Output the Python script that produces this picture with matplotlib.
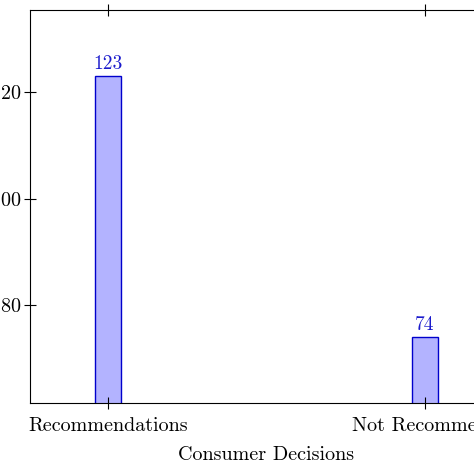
import matplotlib
matplotlib.use("Agg")
import matplotlib.pyplot as plt

categories = ["Recommendations", "Not Recommend"]
values = [123, 74]

plt.rcParams['font.family'] = 'serif'
plt.rcParams['font.serif'] = ['cmr10', 'DejaVu Serif']
plt.rcParams['axes.formatter.use_mathtext'] = True
plt.rcParams['mathtext.fontset'] = 'cm'

fig = plt.figure(figsize=(4.74, 4.74), dpi=100)
ax = fig.add_axes([30/474, 71/474, 473/474, 393/474])
x = list(range(len(categories)))
ax.bar(x, values, width=0.08, color='#b3b3ff', edgecolor='#0000cc', linewidth=1)
for xi, v in zip(x, values):
    ax.text(xi, v + 0.6, str(v), ha='center', va='bottom', color='#1a1acc', fontsize=14)
ax.set_xlim(-0.246, 1.246)
ax.set_ylim(61.6, 135.4)
ax.set_xticks(x)
ax.set_xticklabels(categories, fontsize=14.5)
ax.set_yticks([80, 100, 120])
ax.tick_params(axis='y', labelsize=14.5, direction='inout', length=8, pad=2)
ax.tick_params(axis='x', direction='inout', length=8, top=True, pad=6)
ax.set_xlabel("Consumer Decisions", fontsize=14.5, labelpad=8)
fig.savefig("out.png", dpi=100)
